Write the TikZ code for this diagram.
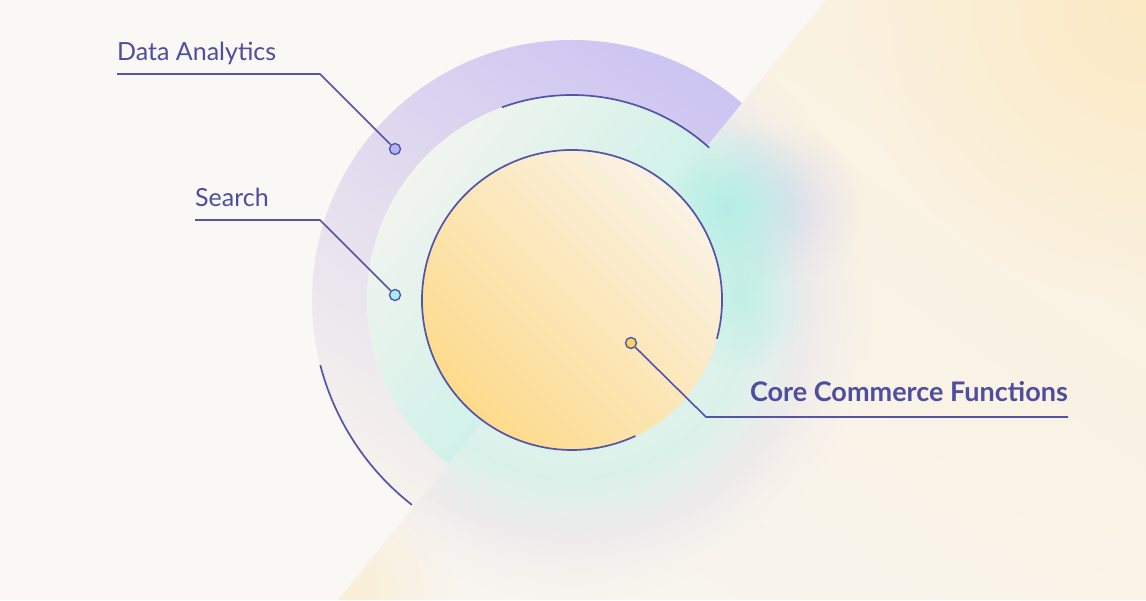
\documentclass[tikz,border=0pt]{standalone}
\usepackage{fontspec}
\setmainfont{Lato}
\usetikzlibrary{fadings}

\definecolor{bgcol}{HTML}{F9F8F4}
\definecolor{ink}{HTML}{4E4D9E}
\definecolor{linecol}{HTML}{5554A8}
\definecolor{purpTop}{HTML}{CCC4F2}
\definecolor{purpMid}{HTML}{E2DDF0}
\definecolor{purpBot}{HTML}{F6F2EC}
\definecolor{tealMid}{HTML}{B0EFE5}
\definecolor{tealTop}{HTML}{F2F4EE}
\definecolor{discTop}{HTML}{FAF2E4}
\definecolor{discMid}{HTML}{FAEFDC}
\definecolor{discBot}{HTML}{FDDB8C}
\definecolor{paneTop}{HTML}{FAF1DE}
\definecolor{paneBot}{HTML}{F8F5F0}
\definecolor{paneSoft}{HTML}{FCEAC4}
\definecolor{glowA}{HTML}{DDF2EA}
\definecolor{glowB}{HTML}{DAF1E9}
\definecolor{glowC}{HTML}{E6EFEC}
\definecolor{glowD}{HTML}{ECE8EC}
\definecolor{glowE}{HTML}{F2EFEC}
\definecolor{glowTeal}{HTML}{B4EFE5}
\definecolor{glowLav}{HTML}{E0DCEE}
\definecolor{dotData}{HTML}{B7B3F2}
\definecolor{dotSearch}{HTML}{A3F0EE}
\definecolor{dotCore}{HTML}{F6D366}

\pgfdeclareradialshading{glowshade}{\pgfpointorigin}{color(0bp)=(glowA); color(12.5bp)=(glowA); color(15bp)=(glowB); color(17.5bp)=(glowC); color(20bp)=(glowD); color(25bp)=(glowE); color(50bp)=(glowE)}
\pgfdeclareradialshading{glowfadeshade}{\pgfpointorigin}{color(0bp)=(pgftransparent!0); color(18bp)=(pgftransparent!0); color(25bp)=(pgftransparent!100); color(50bp)=(pgftransparent!100)}
\pgfdeclarefading{glowfade}{\pgfuseshading{glowfadeshade}}
\pgfdeclareradialshading{softfadeshade}{\pgfpointorigin}{color(0bp)=(pgftransparent!0); color(25bp)=(pgftransparent!100); color(50bp)=(pgftransparent!100)}
\pgfdeclarefading{softfade}{\pgfuseshading{softfadeshade}}

\begin{document}
\begin{tikzpicture}[x=1pt,y=1pt,
		outline/.style={draw=linecol, line width=1.7pt},
		leader/.style={draw=linecol, line width=1.6pt, line join=round},
		pin/.style={circle, draw=linecol, line width=1.4pt, minimum size=11pt, inner sep=0pt},
		tag/.style={text=ink, inner sep=0pt, font=\fontsize{25}{30}\selectfont}]

	\fill[bgcol] (0,0) rectangle (1146,600);
	\useasboundingbox (0,0) rectangle (1146,600);

	\coordinate (C) at (572,300);

	% rings
	\shade[even odd rule, top color=purpTop, middle color=purpMid, bottom color=purpBot, shading angle=-35]
		(C) circle (260) (C) circle (205);
	\shade[even odd rule, top color=tealTop, middle color=tealMid, bottom color=tealMid, shading angle=51]
		(C) circle (205) (C) circle (150);

	% glass pane
	\begin{scope}
		\clip (826,600) -- (1146,600) -- (1146,0) -- (338,0) -- cycle;
		\shade[top color=paneTop, bottom color=paneBot, shading angle=-35]
			(338,0) rectangle (1146,600);
		\fill[paneSoft, path fading=softfade] (1146,600) circle (300);
		\fill[paneSoft, path fading=softfade, opacity=0.6] (350,10) circle (110);
		\shade[shading=glowshade, path fading=glowfade] (C) circle (300);
		\fill[glowLav, path fading=softfade, opacity=0.8] (785,395) circle (80);
		\fill[glowTeal, path fading=softfade] (728,392) circle (90);
		\fill[glowTeal, path fading=softfade, opacity=0.6] (740,300) circle (70);
	\end{scope}

	% core disc
	\shade[top color=discTop, middle color=discMid, bottom color=discBot, shading angle=-45]
		(C) circle (150);

	\draw[outline] (C) ++(-15:150) arc[start angle=-15, end angle=295, radius=150];
	\draw[outline] (C) ++(48:205) arc[start angle=48, end angle=110, radius=205];
	\draw[outline] (C) ++(194.5:260) arc[start angle=194.5, end angle=232, radius=260];

	% labels
	\node[tag, anchor=base west] (data) at (117,539.3) {Data Analytics};
	\node[tag, anchor=base west] (search) at (195,393.3) {Search};
	\node[tag, anchor=base east, font=\fontsize{27}{32}\selectfont\bfseries] (core) at (1068,198) {Core Commerce Functions};

	\coordinate (dataStart) at (117,526);
	\coordinate (dataBend) at (320,526);
	\coordinate (searchStart) at (195,380);
	\coordinate (searchBend) at (320,380);
	\coordinate (coreBend) at (706,183);
	\coordinate (coreEnd) at (1068,183);

	\node[pin, fill=dotData] (dataPin) at (395,451) {};
	\node[pin, fill=dotSearch] (searchPin) at (395,305) {};
	\node[pin, fill=dotCore] (corePin) at (631,257) {};

	\draw[leader] (dataStart) -- (dataBend) -- (dataPin);
	\draw[leader] (searchStart) -- (searchBend) -- (searchPin);
	\draw[leader] (corePin) -- (coreBend) -- (coreEnd);
\end{tikzpicture}
\end{document}
